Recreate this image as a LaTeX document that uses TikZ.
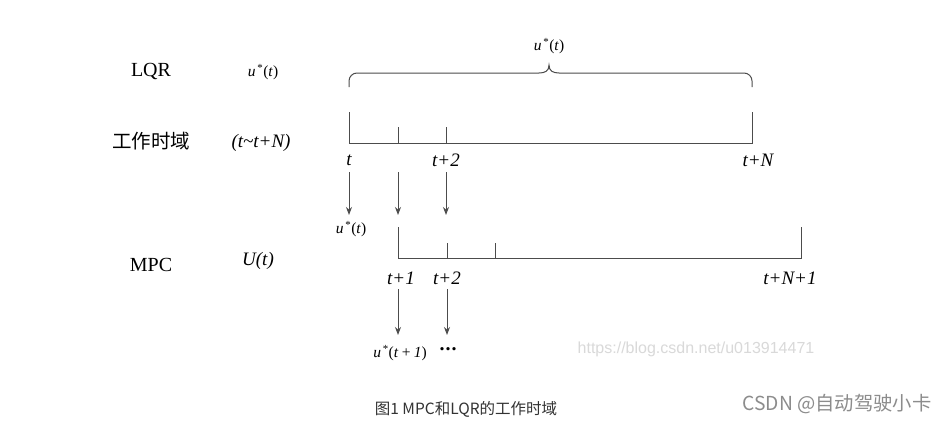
\documentclass[tikz,border=0pt]{standalone}
\usepackage{fontspec}
\setmainfont{Liberation Serif}
\newfontfamily\cjk{Noto Sans CJK SC}
\newfontfamily\wmfont{Liberation Sans}
\usetikzlibrary{arrows.meta}
\newcommand{\ustar}[1]{\textit{u}\textsuperscript{\,*}(\textit{#1})}
\begin{document}
\begin{tikzpicture}[x=1pt,y=-1pt,
  lbl/.style={inner sep=0pt, font=\fontsize{20}{23}\selectfont},
  cjklbl/.style={inner sep=0pt, font=\cjk\fontsize{19.5}{22}\selectfont},
  tl/.style={inner sep=0pt, font=\fontsize{19}{22}\selectfont\itshape},
  ul/.style={inner sep=0pt, font=\fontsize{15.5}{18}\selectfont},
  axis/.style={draw=black!70, line width=1pt},
  arr/.style={draw=black!70, line width=1pt, -{Stealth[length=8pt,width=6pt]}},
  wm/.style={inner sep=0pt, text=black!15, font=\wmfont\fontsize{16}{18}\selectfont},
  captionlbl/.style={inner sep=0pt, text=black!80, font=\cjk\fontsize{15.5}{18}\selectfont},
  csdn/.style={inner sep=0pt, text=black!45, font=\cjk\fontsize{19.3}{22}\selectfont}]
\fill[white] (0,0) rectangle (949,423);
\useasboundingbox (0,0) rectangle (949,423);

% left column labels
\node[lbl] (lqr) at (151,71) {LQR};
\node[ul] (lqru) at (263,72) {\ustar{t}};
\node[cjklbl] (work) at (151,141) {工作时域};
\node[tl] (range) at (261,143) {(t\textasciitilde t+N)};
\node[lbl] (mpc) at (151,265) {MPC};
\node[tl] (Ut) at (258,261) {U(t)};

% top timeline
\coordinate (a0) at (349,143);
\coordinate (a0t) at (349,112);
\coordinate (a1) at (398,143);
\coordinate (a1t) at (398,127);
\coordinate (a2) at (446,143);
\coordinate (a2t) at (446,127);
\coordinate (aN) at (752,143);
\coordinate (aNt) at (752,112);
\draw[axis] (a0t) -- (a0) -- (aN) -- (aNt);
\draw[axis] (a1) -- (a1t);
\draw[axis] (a2) -- (a2t);
\node[tl] (lt) at (349,160) {t};
\node[tl] (lt2) at (446,160) {t+2};
\node[tl] (ltN) at (758,160) {t+N};

% brace
\draw[draw=black!70, line width=1pt] (349,87) -- (349,81) arc[start angle=180, end angle=270, x radius=8pt, y radius=-8pt] -- (539,73)
  .. controls (545,73) and (549,71) .. (549,65)
  .. controls (549,71) and (553,73) .. (559,73) -- (744,73)
  arc[start angle=270, end angle=360, x radius=8pt, y radius=-8pt] -- (752,87);
\node[ul] (bru) at (549,46) {\ustar{t}};

% arrows top -> bottom
\coordinate (s0) at (349,172);
\coordinate (s1) at (398,172);
\coordinate (s2) at (446,172);
\node[ul] (u0) at (351,229) {\ustar{t}};
\coordinate (e0) at (349,215);
\coordinate (e1) at (398,215);
\coordinate (e2) at (446,215);
\draw[arr] (s0) -- (e0);
\draw[arr] (s1) -- (e1);
\draw[arr] (s2) -- (e2);

% bottom timeline
\coordinate (b0) at (398,258);
\coordinate (b0t) at (398,227);
\coordinate (b1) at (447,258);
\coordinate (b1t) at (447,243);
\coordinate (b2) at (495,258);
\coordinate (b2t) at (495,243);
\coordinate (bN) at (801,258);
\coordinate (bNt) at (801,227);
\draw[axis] (b0t) -- (b0) -- (bN) -- (bNt);
\draw[axis] (b1) -- (b1t);
\draw[axis] (b2) -- (b2t);
\node[tl] (lt1b) at (401,278) {t+1};
\node[tl] (lt2b) at (447,278) {t+2};
\node[tl] (ltNb) at (790,278) {t+N+1};

% bottom arrows
\coordinate (c1) at (398,289);
\coordinate (c2) at (447,289);
\coordinate (d1) at (398,335);
\coordinate (d2) at (447,335);
\node[ul] (u1) at (400,353) {\ustar{t\,+\,1}};
\node[lbl, font=\fontsize{20}{23}\selectfont\bfseries] (dots) at (448,349) {.\kern1pt.\kern1pt.};
\draw[arr] (c1) -- (d1);
\draw[arr] (c2) -- (d2);

% watermark and caption
\node[wm] (url) at (696,349) {https://blog.csdn.net/u013914471};
\node[captionlbl] (caption) at (466,409) {图1 MPC和LQR的工作时域};
\node[csdn] (csdnmark) at (837,404) {CSDN @自动驾驶小卡};
\end{tikzpicture}
\end{document}
